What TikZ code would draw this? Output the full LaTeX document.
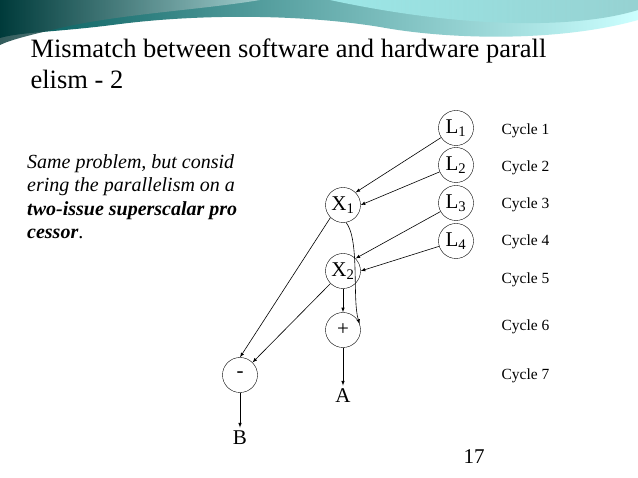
\documentclass[tikz,border=0pt]{standalone}
\usepackage{fontspec}
\setmainfont{Liberation Serif}
\begin{document}
\begin{tikzpicture}[x=1pt,y=-1pt,
  op/.style={draw,circle,minimum size=35pt,inner sep=0pt,font=\fontsize{21}{22}\selectfont},
  cyc/.style={anchor=west,font=\fontsize{15.5}{17}\selectfont},
  lbl/.style={font=\fontsize{21}{22}\selectfont},
  arr/.style={-latex,line width=0.6pt}]
\useasboundingbox (0,0) rectangle (638,478);
\fill[white] (0,0) rectangle (638,478);
% header wave
\shade[left color=teal!70!black, right color=cyan!20!white]
  (0,0) -- (638,0) -- (638,20) .. controls (560,42) and (450,40) .. (380,27)
  .. controls (300,14) and (200,14) .. (120,24) .. controls (60,32) and (20,32) .. (0,38) -- cycle;
\shade[left color=teal!40!black, right color=teal!30!white,opacity=0.8]
  (0,0) -- (260,0) .. controls (200,10) and (120,14) .. (60,28) .. controls (30,35) and (10,40) .. (0,45) -- cycle;
\shade[left color=cyan!30!white, right color=teal!50!white,opacity=0.7]
  (330,0) -- (638,0) -- (638,10) .. controls (580,28) and (470,30) .. (330,0) -- cycle;
% title
\node[anchor=base west,font=\fontsize{26.5}{30}\selectfont] (t1) at (27,58) {Mismatch between software and hardware parall};
\node[anchor=base west,font=\fontsize{26.5}{30}\selectfont] (t2) at (27,89) {elism - 2};
% left text
\node[anchor=north west,align=left,inner sep=0pt,font=\fontsize{20}{23.5}\selectfont] (txt) at (27,154)
 {\textit{Same problem, but consid}\\\textit{ering the parallelism on a}\\\textbf{\textit{two-issue superscalar pro}}\\\textbf{\textit{cessor}}.};
% nodes
\node[op] (L1) at (456,128) {L\textsubscript{1}};
\node[op] (L2) at (456,165) {L\textsubscript{2}};
\node[op] (L3) at (456,203) {L\textsubscript{3}};
\node[op] (L4) at (456,241) {L\textsubscript{4}};
\node[op] (X1) at (343,205) {X\textsubscript{1}};
\node[op] (X2) at (343,271) {X\textsubscript{2}};
\node[op] (P) at (343,330) {+};
\node[op] (M) at (240,375) {-};
\node[lbl] (A) at (343,396) {A};
\node[lbl] (B) at (240,438) {B};
% cycles
\foreach \i/\y in {1/131,2/168,3/205,4/242,5/280,6/327,7/376}
  \node[cyc] (c\i) at (498,\y) {Cycle \i};
\node[lbl] (pg) at (474,457) {17};
% edges
\draw[arr] (L1) -- (X1.north east);
\draw[arr] (L2) -- (X1.east);
\draw[arr] (L3) -- (X2.north east);
\draw[arr] (L4) -- (X2.east);
\draw[arr] (X1.south west) -- (M.north);
\draw[arr] (X2.south west) -- (M.north east);
\draw[arr] (X2) -- (P);
\draw[arr] (X1.-80) .. controls (360,240) and (352,300) .. (P.20);
\draw[arr] (P) -- (A);
\draw[arr] (M) -- (B);
\end{tikzpicture}
\end{document}
